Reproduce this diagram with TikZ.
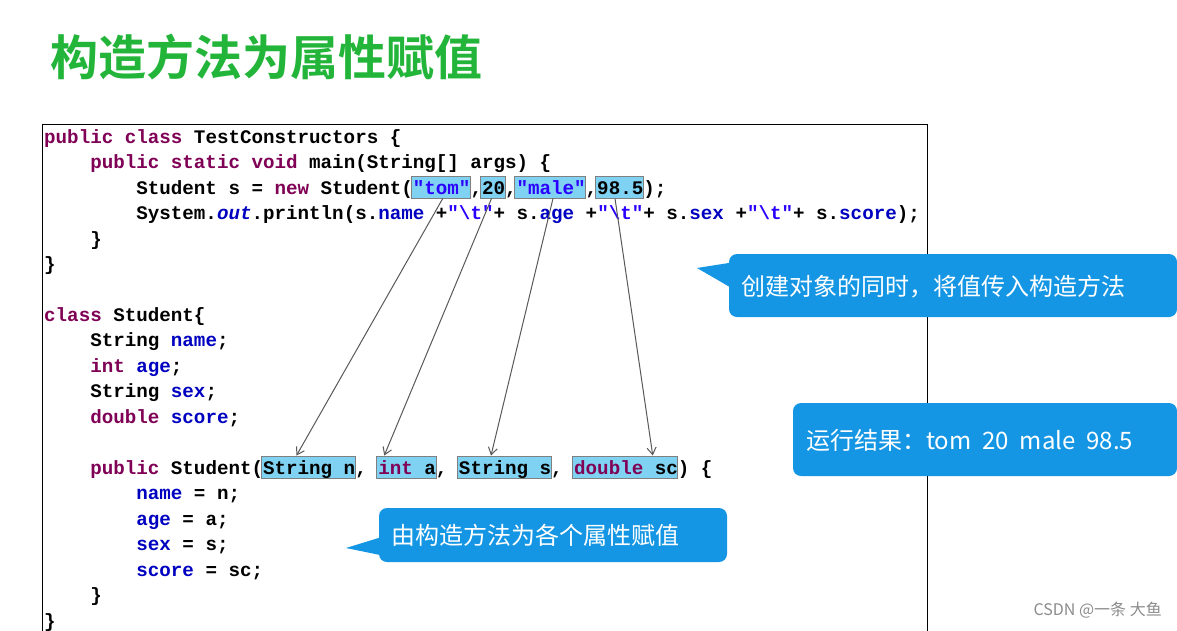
\documentclass[tikz,border=0pt]{standalone}
\usepackage{fontspec}
\usetikzlibrary{arrows.meta}
\newfontfamily\cjk{Noto Sans CJK SC}
\newfontfamily\cjkb{Noto Sans CJK SC Bold}
\newfontfamily\codef{Liberation Mono}
\definecolor{kw}{HTML}{7F0055}
\definecolor{fld}{HTML}{0000C0}
\definecolor{str}{HTML}{2A00FF}
\definecolor{hl}{HTML}{7FD2F2}
\definecolor{call}{HTML}{1596E4}
\definecolor{ttl}{HTML}{22B53A}
\newcommand{\K}[1]{\textcolor{kw}{#1}}
\newcommand{\F}[1]{\textcolor{fld}{#1}}
\newcommand{\Q}[1]{\textcolor{str}{#1}}
\tikzset{
 code/.style={anchor=base west,inner sep=0,font=\codef\bfseries\fontsize{19.2}{25}\selectfont},
 hlbox/.style={fill=hl,draw=gray,line width=1pt,inner sep=0,minimum height=22},
 callbox/.style={fill=call,rounded corners=8,draw=none},
 calltxt/.style={text=white,font=\cjk\fontsize{24}{28}\selectfont,inner sep=0},
 link/.style={draw=black!65,line width=1pt,-{Straight Barb[length=7,width=9]}}
}
\newcommand{\colx}[1]{44+#1*11.5}
\begin{document}
\begin{tikzpicture}[x=1pt,y=-1pt]
\useasboundingbox (0,0) rectangle (1177,630);
\fill[white] (0,0) rectangle (1177,630);
\node[anchor=west,inner sep=0,text=ttl,font=\cjkb\fontsize{48}{52}\selectfont] (title) at (50,57) {构造方法为属性赋值};
\draw[black,line width=1pt] (42,632) -- (42,124) -- (927,124) -- (927,632);
% highlight boxes
\def\bx#1#2#3#4{\node[hlbox,minimum width={(#3-#2)*11.5+2}] (#1) at ({44+(#2+#3)*11.5/2},#4) {};}
\bx{tom}{32}{37}{187}
\bx{twenty}{38}{40}{187}
\bx{male}{41}{47}{187}
\bx{nine}{48}{52}{187}
\bx{pn}{19}{27}{467}
\bx{pa}{29}{34}{467}
\bx{ps}{36}{44}{467}
\bx{psc}{46}{55}{467}
% code
\node[code] (l1) at (44,143) {\K{public class} TestConstructors \{};
\node[code] (l2) at (44,168.5) {\phantom{xxxx}\K{public static void} main(String[] args) \{};
\node[code] (l3) at (44,194) {\phantom{xxxxxxxx}Student s = \K{new} Student(\Q{"tom"},20,\Q{"male"},98.5);};
\node[code] (l4) at (44,219.5) {\phantom{xxxxxxxx}System.\F{\itshape out}.println(s.\F{name} +\Q{"\textbackslash t"}+ s.\F{age} +\Q{"\textbackslash t"}+ s.\F{sex} +\Q{"\textbackslash t"}+ s.\F{score});};
\node[code] (l5) at (44,245) {\phantom{xxxx}\}};
\node[code] (l6) at (44,270.5) {\}};
\node[code] (l8) at (44,321) {\K{class} Student\{};
\node[code] (l9) at (44,346.5) {\phantom{xxxx}String \F{name};};
\node[code] (l10) at (44,372) {\phantom{xxxx}\K{int} \F{age};};
\node[code] (l11) at (44,397.5) {\phantom{xxxx}String \F{sex};};
\node[code] (l12) at (44,423) {\phantom{xxxx}\K{double} \F{score};};
\node[code] (l14) at (44,474) {\phantom{xxxx}\K{public} Student(String n, \K{int} a, String s, \K{double} sc) \{};
\node[code] (l15) at (44,499.5) {\phantom{xxxxxxxx}\F{name} = n;};
\node[code] (l16) at (44,525) {\phantom{xxxxxxxx}\F{age} = a;};
\node[code] (l17) at (44,550.5) {\phantom{xxxxxxxx}\F{sex} = s;};
\node[code] (l18) at (44,576) {\phantom{xxxxxxxx}\F{score} = sc;};
\node[code] (l19) at (44,601.5) {\phantom{xxxx}\}};
\node[code] (l20) at (44,627) {\}};
% arrows
\draw[link] ([xshift=2]tom.south) -- ([xshift=-12]pn.north);
\draw[link] ([xshift=-1]twenty.south) -- ([xshift=-22]pa.north);
\draw[link] ([xshift=3]male.south) -- ([xshift=-13]ps.north);
\draw[link] ([xshift=-4]nine.south) -- ([xshift=28]psc.north);
% callouts
\fill[callbox] (729,254) rectangle (1177,317);
\fill[call] (697,268) -- (735,262) -- (735,290) -- cycle;
\node[calltxt,anchor=west] (c1) at (741,287) {创建对象的同时，将值传入构造方法};
\fill[callbox] (793,403) rectangle (1177,476);
\node[calltxt,anchor=west] (c2) at (806,440) {运行结果：tom\ \ 20\ \ male\ \ 98.5};
\fill[callbox] (379,508) rectangle (727,562);
\fill[call] (346,548) -- (385,536) -- (385,556) -- cycle;
\node[calltxt,anchor=west] (c3) at (391,535) {由构造方法为各个属性赋值};
\node[anchor=east,inner sep=0,text=black!45,font=\cjk\fontsize{16}{18}\selectfont] (wm) at (1162,610) {CSDN @一条 大鱼};
\end{tikzpicture}
\end{document}
